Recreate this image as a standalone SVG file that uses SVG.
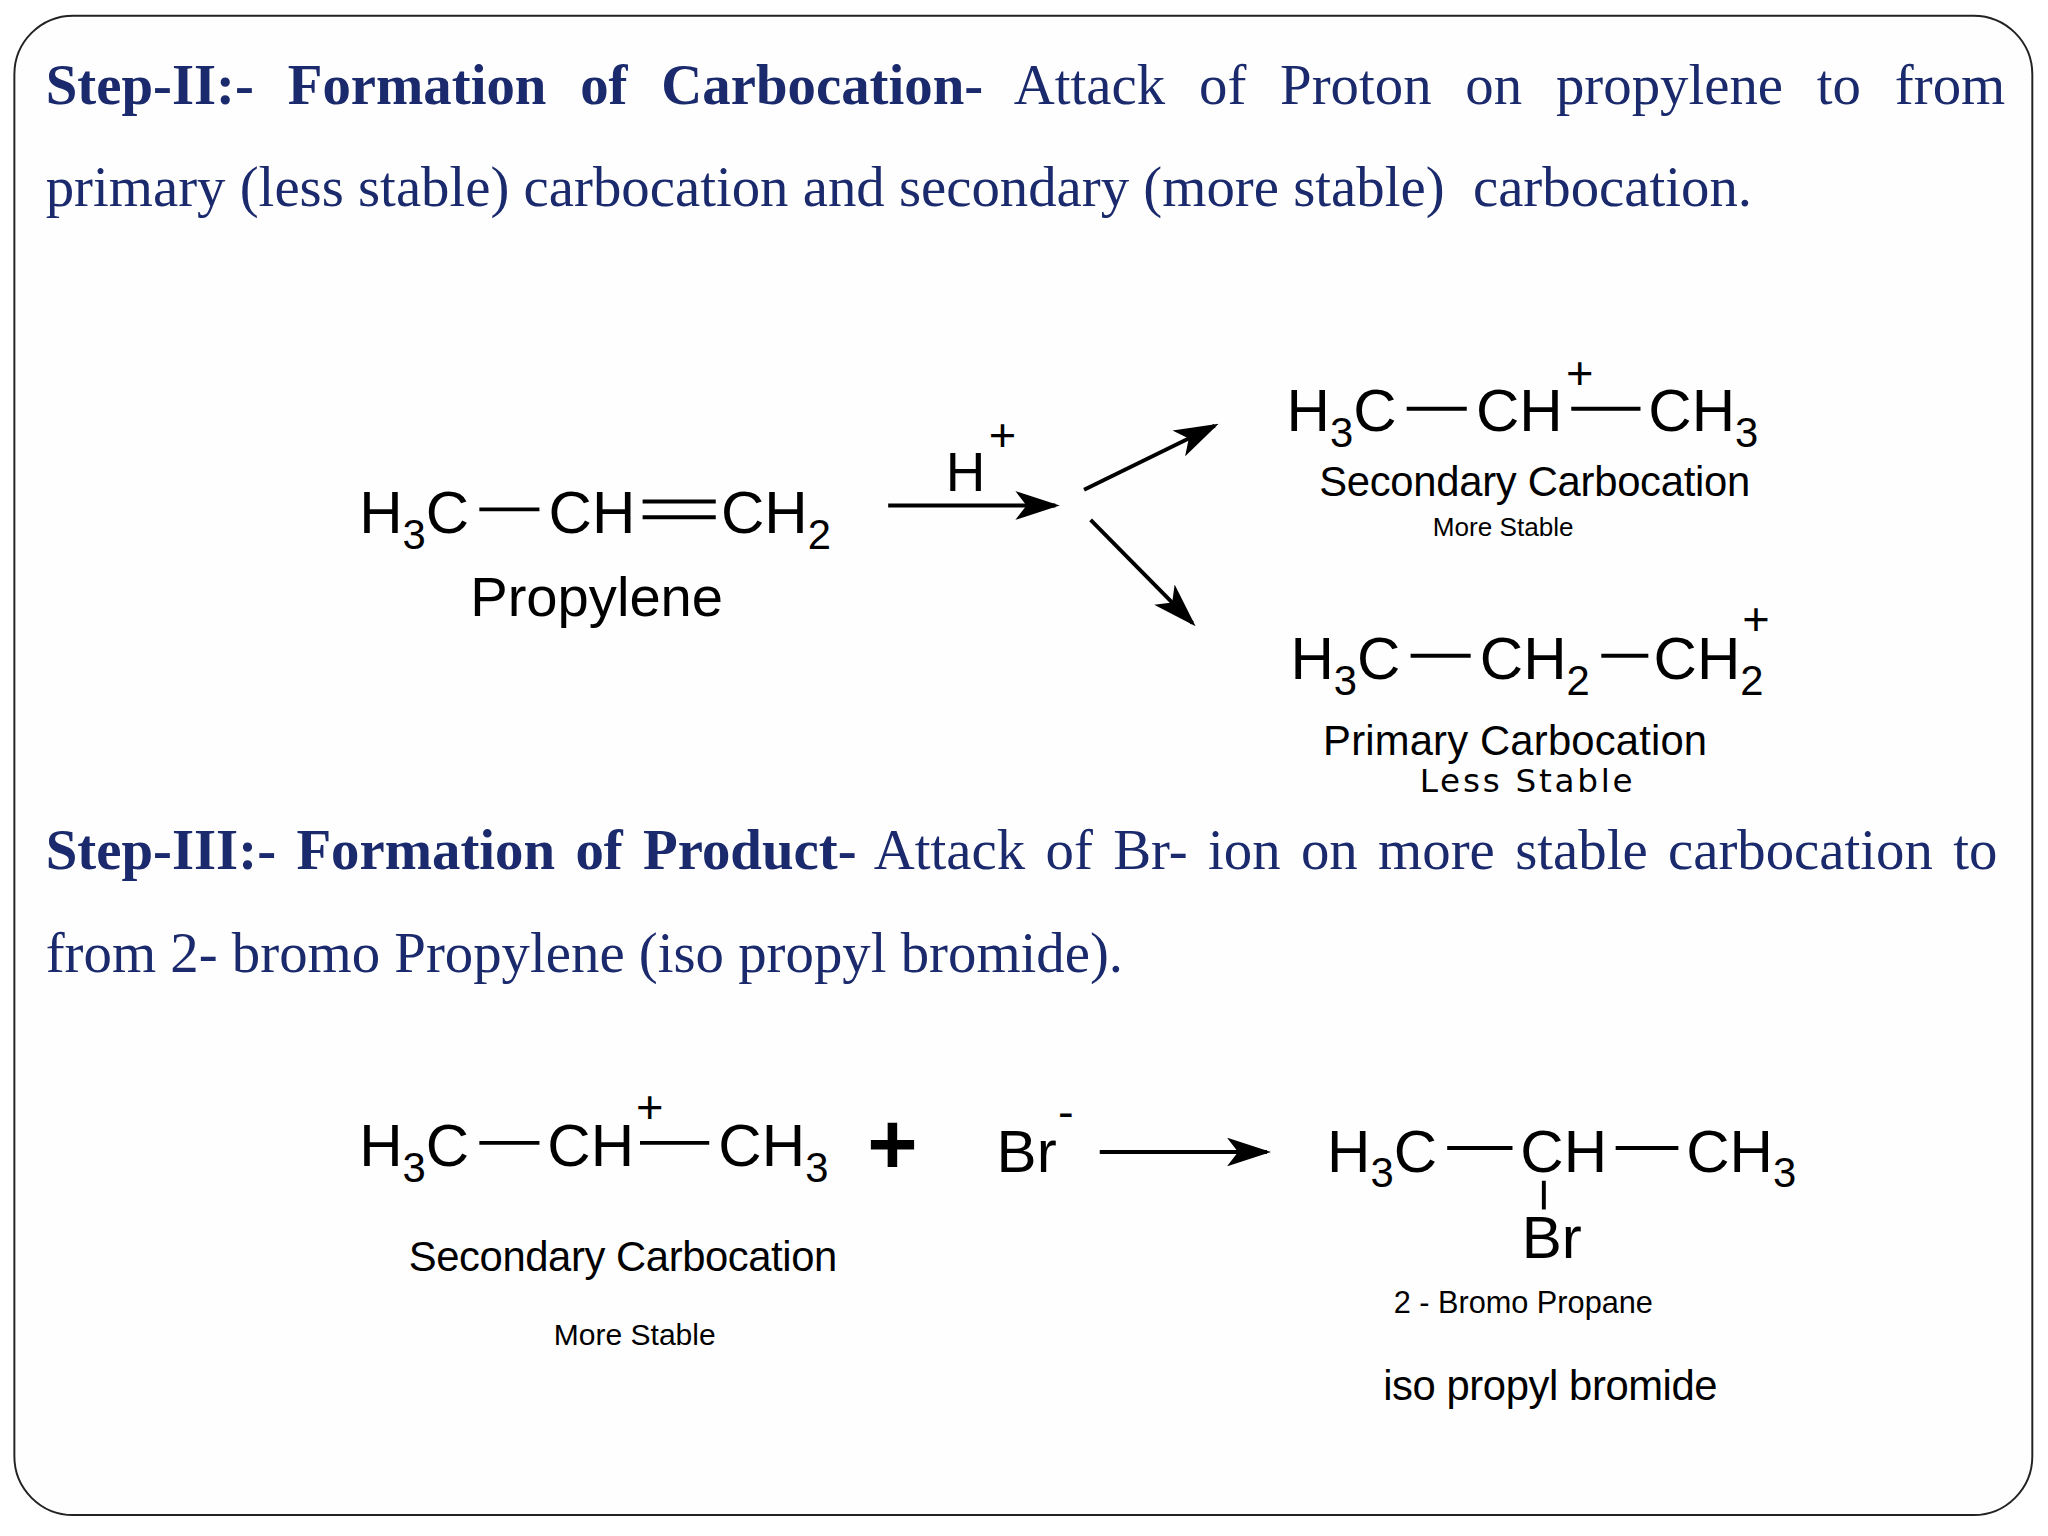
<svg xmlns="http://www.w3.org/2000/svg" width="2048" height="1536" viewBox="0 0 2048 1536">
<defs>
<style>
.t{font-family:"Liberation Serif",serif;font-size:43.5px;fill:#1a2a6c}
.b{font-weight:bold}
.m{font-family:"Liberation Sans",Arial,sans-serif;font-size:46px;fill:#000}
.s{font-family:"Liberation Sans",Arial,sans-serif;font-size:32px;fill:#000}
.p{font-family:"Liberation Sans",Arial,sans-serif;font-size:36px;fill:#000}
.bond{stroke:#000;stroke-width:3;fill:none}
</style>
<marker id="ah" viewBox="0 0 10 10" refX="9" refY="5" markerWidth="34" markerHeight="22" orient="auto" markerUnits="userSpaceOnUse" preserveAspectRatio="none">
<path d="M0,0 L10,5 L0,10 L2.5,5 z" fill="#000"/>
</marker>
</defs>
<rect width="2048" height="1536" fill="#fff"/>
<g transform="scale(1.30612)">
<rect x="11" y="12" width="1545" height="1148" rx="45" fill="#fefefe" stroke="#222" stroke-width="1.5"/>
<g id="step2">
<text class="t" x="35" y="80" style="word-spacing:15px"><tspan class="b">Step-II:- Formation of Carbocation-</tspan> Attack of Proton on propylene to from</text>
<text class="t" x="35" y="158" xml:space="preserve">primary (less stable) carbocation and secondary (more stable)  carbocation.</text>
</g>
<g id="propylene">
<text class="m" x="275" y="408">H<tspan font-size="32" dy="12">3</tspan><tspan dy="-12">C</tspan></text>
<line class="bond" x1="367" y1="390" x2="413" y2="390"/>
<text class="m" x="420" y="408">CH</text>
<line class="bond" x1="492" y1="384" x2="548" y2="384"/>
<line class="bond" x1="492" y1="396" x2="548" y2="396"/>
<text class="m" x="552" y="408">CH<tspan font-size="32" dy="12">2</tspan></text>
<text class="m" x="360" y="472" style="font-size:43px">Propylene</text>
</g>
<g id="connectors">
<line class="bond" x1="680" y1="387" x2="808" y2="387" marker-end="url(#ah)"/>
<line class="bond" x1="830" y1="375" x2="930" y2="326" marker-end="url(#ah)"/>
<line class="bond" x1="835" y1="398" x2="913" y2="477" marker-end="url(#ah)"/>
<line class="bond" x1="842" y1="882" x2="970" y2="882" marker-end="url(#ah)"/>
</g>
<g id="hplus">
<text class="m" x="724" y="376" style="font-size:42px">H</text>
<text class="p" x="757" y="345">+</text>
</g>
<g id="secondary">
<text class="m" x="985" y="330">H<tspan font-size="32" dy="12">3</tspan><tspan dy="-12">C</tspan></text>
<line class="bond" x1="1077" y1="313" x2="1123" y2="313"/>
<text class="m" x="1130" y="330">CH</text>
<text class="p" x="1199" y="298">+</text>
<line class="bond" x1="1203" y1="313" x2="1256" y2="313"/>
<text class="m" x="1262" y="330">CH<tspan font-size="32" dy="12">3</tspan></text>
<text class="s" x="1010" y="380" textLength="330">Secondary Carbocation</text>
<text class="s" x="1097" y="410" style="font-size:20px">More Stable</text>
</g>
<g id="primary">
<text class="m" x="988" y="520">H<tspan font-size="32" dy="12">3</tspan><tspan dy="-12">C</tspan></text>
<line class="bond" x1="1080" y1="502" x2="1126" y2="502"/>
<text class="m" x="1133" y="520">CH<tspan font-size="32" dy="12">2</tspan></text>
<line class="bond" x1="1226" y1="502" x2="1262" y2="502"/>
<text class="m" x="1266" y="520">CH<tspan font-size="32" dy="12">2</tspan></text>
<text class="p" x="1334" y="486">+</text>
<text class="s" x="1013" y="578" textLength="294">Primary Carbocation</text>
<text x="1087" y="606" font-family="DejaVu Sans,sans-serif" font-size="25" fill="#000" textLength="163">Less Stable</text>
</g>
<g id="step3">
<text class="t" x="35" y="665" style="word-spacing:4.7px"><tspan class="b">Step-III:- Formation of Product-</tspan> Attack of Br- ion on more stable carbocation to</text>
<text class="t" x="35" y="744">from 2- bromo Propylene (iso propyl bromide).</text>
</g>
<g id="reactant">
<text class="m" x="275" y="893">H<tspan font-size="32" dy="12">3</tspan><tspan dy="-12">C</tspan></text>
<line class="bond" x1="367" y1="875" x2="413" y2="875"/>
<text class="m" x="419" y="893">CH</text>
<text class="p" x="487" y="860">+</text>
<line class="bond" x1="490" y1="875" x2="543" y2="875"/>
<text class="m" x="550" y="893">CH<tspan font-size="32" dy="12">3</tspan></text>
<text class="s" x="313" y="973" textLength="328">Secondary Carbocation</text>
<text class="s" x="424" y="1030" style="font-size:23px">More Stable</text>
</g>
<g id="plus"><text class="m" x="664" y="899" style="font-size:66px;font-weight:bold">+</text></g>
<g id="bromide">
<text class="m" x="763" y="897">Br</text>
<text class="p" x="810" y="864">-</text>
</g>
<g id="product">
<text class="m" x="1016" y="897">H<tspan font-size="32" dy="12">3</tspan><tspan dy="-12">C</tspan></text>
<line class="bond" x1="1108" y1="879" x2="1158" y2="879"/>
<text class="m" x="1164" y="897">CH</text>
<line class="bond" x1="1237" y1="879" x2="1285" y2="879"/>
<text class="m" x="1291" y="897">CH<tspan font-size="32" dy="12">3</tspan></text>
<line class="bond" x1="1182" y1="904" x2="1182" y2="926"/>
<text class="m" x="1165" y="963">Br</text>
<text class="s" x="1067" y="1005" style="font-size:23.5px">2 - Bromo Propane</text>
<text class="s" x="1059" y="1072" textLength="256">iso propyl bromide</text>
</g>
</g>
</svg>
